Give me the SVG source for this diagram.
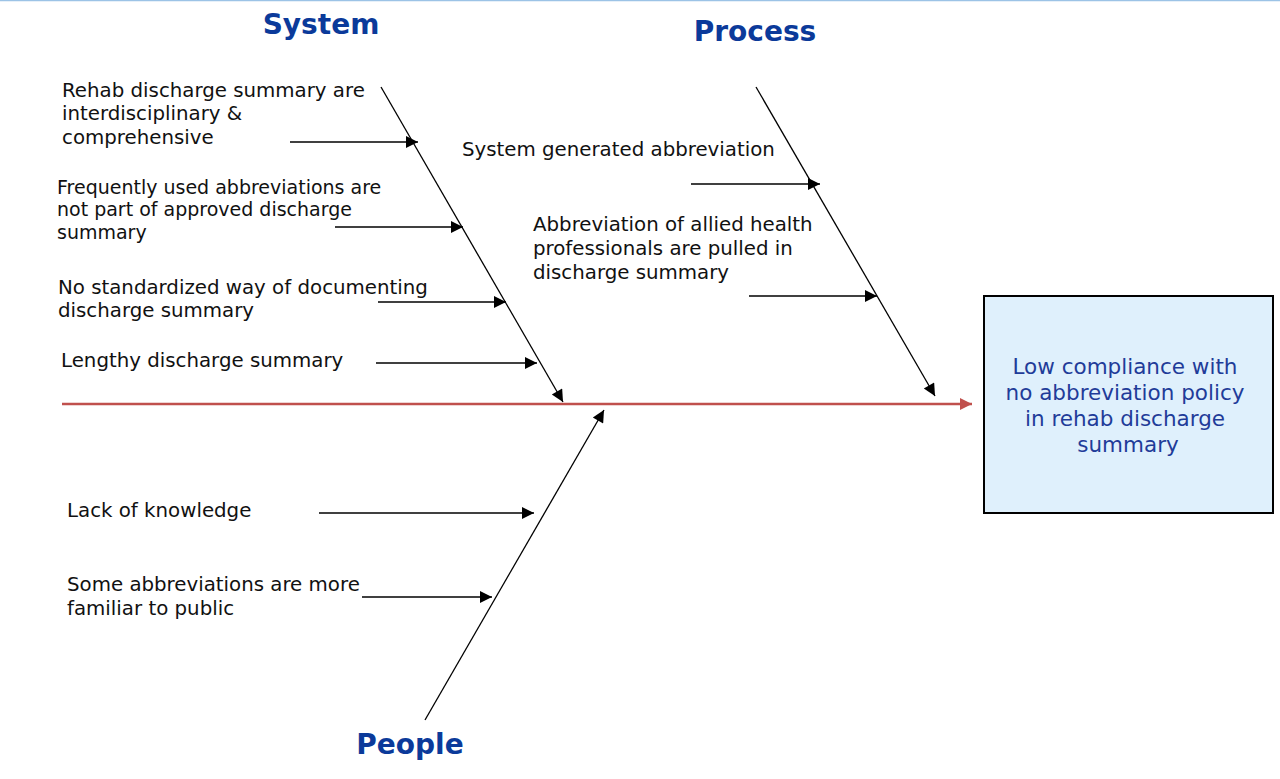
<svg xmlns="http://www.w3.org/2000/svg" width="1280" height="779" viewBox="0 0 1280 779">
<defs>
<style>
.t{font-family:"DejaVu Sans",Verdana,sans-serif;font-size:19.8px;fill:#111}
.s{font-size:19px}
.h{font-family:"DejaVu Sans",Verdana,sans-serif;font-size:28px;font-weight:bold;fill:#0b3a9a;text-anchor:middle}
.b{font-family:"DejaVu Sans",Verdana,sans-serif;font-size:21.5px;fill:#1f3c99;text-anchor:middle}
.l{stroke:#000;stroke-width:1.3;fill:none}
</style>
<marker id="a" viewBox="0 0 10 10" refX="10" refY="5" markerWidth="16" markerHeight="12" markerUnits="userSpaceOnUse" orient="auto"><path d="M0,0L10,5L0,10z" fill="#000"/></marker>
<marker id="r" viewBox="0 0 10 10" refX="10" refY="5" markerWidth="18" markerHeight="12" markerUnits="userSpaceOnUse" orient="auto"><path d="M0,0L10,5L0,10z" fill="#c0504d"/></marker>
</defs>
<rect width="1280" height="779" fill="#fff"/>
<line x1="0" y1="0.5" x2="1280" y2="0.5" stroke="#9cc3e6" stroke-width="1.5"/>
<g id="connectors">
<line x1="62" y1="404" x2="972" y2="404" stroke="#c0504d" stroke-width="2.5" marker-end="url(#r)"/>
<line class="l" x1="381" y1="87" x2="563" y2="402" marker-end="url(#a)"/>
<line class="l" x1="756" y1="87" x2="935" y2="396" marker-end="url(#a)"/>
<line class="l" x1="425" y1="720" x2="604" y2="410" marker-end="url(#a)"/>
<line class="l" x1="290" y1="142" x2="418" y2="142" marker-end="url(#a)"/>
<line class="l" x1="335" y1="227" x2="463" y2="227" marker-end="url(#a)"/>
<line class="l" x1="378" y1="302" x2="506" y2="302" marker-end="url(#a)"/>
<line class="l" x1="376" y1="363" x2="537" y2="363" marker-end="url(#a)"/>
<line class="l" x1="691" y1="184" x2="820" y2="184" marker-end="url(#a)"/>
<line class="l" x1="749" y1="296" x2="877" y2="296" marker-end="url(#a)"/>
<line class="l" x1="319" y1="513" x2="534" y2="513" marker-end="url(#a)"/>
<line class="l" x1="362" y1="597" x2="492" y2="597" marker-end="url(#a)"/>
</g>
<g id="system"><text class="h" x="321" y="34">System</text></g>
<g id="process"><text class="h" x="755" y="41">Process</text></g>
<g id="people"><text class="h" x="410" y="754">People</text></g>
<g id="effect">
<rect x="984" y="296" width="289" height="217" fill="#dff0fc" stroke="#000" stroke-width="2"/>
<text class="b" x="1125" y="374">Low compliance with</text>
<text class="b" x="1125" y="400">no abbreviation policy</text>
<text class="b" x="1125" y="426">in rehab discharge</text>
<text class="b" x="1128" y="452">summary</text>
</g>
<g id="cause-s1"><text class="t" x="62" y="97">Rehab discharge summary are</text><text class="t" x="62" y="120">interdisciplinary &amp;</text><text class="t" x="62" y="144">comprehensive</text></g>
<g id="cause-s2"><text class="t s" x="57" y="194">Frequently used abbreviations are</text><text class="t s" x="57" y="216">not part of approved discharge</text><text class="t s" x="57" y="239">summary</text></g>
<g id="cause-s3"><text class="t" x="58" y="294">No standardized way of documenting</text><text class="t" x="58" y="317">discharge summary</text></g>
<g id="cause-s4"><text class="t" x="61" y="367">Lengthy discharge summary</text></g>
<g id="cause-p1"><text class="t" x="462" y="156">System generated abbreviation</text></g>
<g id="cause-p2"><text class="t" x="533" y="231">Abbreviation of allied health</text><text class="t" x="533" y="255">professionals are pulled in</text><text class="t" x="533" y="279">discharge summary</text></g>
<g id="cause-pe1"><text class="t" x="67" y="517">Lack of knowledge</text></g>
<g id="cause-pe2"><text class="t" x="67" y="591">Some abbreviations are more</text><text class="t" x="67" y="615">familiar to public</text></g>
</svg>
